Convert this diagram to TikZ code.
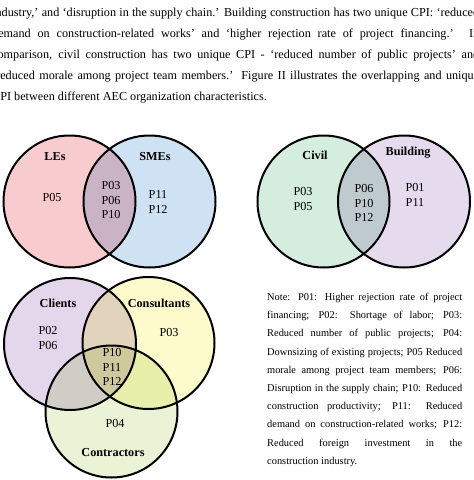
\documentclass[tikz,border=0pt]{standalone}
\usepackage{fontspec}
\setmainfont{Liberation Serif}
\usepackage{xcolor}
\usetikzlibrary{positioning}
\definecolor{lepink}{RGB}{248, 203, 207}
\definecolor{smeblue}{RGB}{207, 226, 243}
\definecolor{civgreen}{RGB}{212, 237, 222}
\definecolor{bldlilac}{RGB}{230, 218, 238}
\definecolor{clililac}{RGB}{228, 215, 236}
\definecolor{conyellow}{RGB}{253, 251, 204}
\definecolor{ctrgreen}{RGB}{234, 243, 214}

\begin{document}
\begin{tikzpicture}[x=1pt, y=-1pt,
    set/.style={circle, draw=black, line width=2pt, minimum size=132pt, inner sep=0pt},
    head/.style={font=\fontsize{12.2}{14}\selectfont\bfseries, inner sep=0pt},
    code/.style={font=\fontsize{12.2}{14.8}\selectfont, align=center, inner sep=0pt},
    para/.style={font=\fontsize{12.2}{21}\selectfont, anchor=base west, inner sep=0pt},
    note/.style={font=\fontsize{10.4}{18.2}\selectfont, text width=195pt, align=justify,
                 anchor=north west, inner sep=0pt}
]
\useasboundingbox (0,0) rectangle (474,480);
\clip (0,0) rectangle (474,480);

% running text of the page
\node[para] (l1) at (-8, 16) {\makebox[487pt][s]{industry,’ and ‘disruption in the supply chain.’ Building construction has two unique CPI: ‘reduced}};
\node[para] (l2) at (-8, 37) {\makebox[487pt][s]{demand on construction-related works’ and ‘higher rejection rate of project financing.’ In}};
\node[para] (l3) at (-8, 58) {\makebox[487pt][s]{comparison, civil construction has two unique CPI - ‘reduced number of public projects’ and}};
\node[para] (l4) at (-8, 79) {\makebox[487pt][s]{‘reduced morale among project team members.’ Figure II illustrates the overlapping and unique}};
\node[para] (l5) at (-8, 100) {CPI between different AEC organization characteristics.};

% size of firm
\begin{scope}[blend group=multiply]
\node[set, fill=lepink] (les) at (69.5, 201.5) {};
\node[set, fill=smeblue] (smes) at (149.5, 201.5) {};
\end{scope}
\node[head] (lesl) at (55, 157) {LEs};
\node[head] (smesl) at (155, 157) {SMEs};
\node[code] (les1) at (52, 197) {P05};
\node[code] (both1) at (111, 200) {P03\\P06\\P10};
\node[code] (smes1) at (158, 202) {P11\\P12};

% type of construction
\begin{scope}[blend group=multiply]
\node[set, fill=civgreen] (civ) at (323.5, 201.5) {};
\node[set, fill=bldlilac] (bld) at (404, 201.5) {};
\end{scope}
\node[head] (civl) at (315, 155) {Civil};
\node[head] (bldl) at (408, 153) {Building};
\node[code] (civ1) at (303, 199) {P03\\P05};
\node[code] (both2) at (364, 203) {P06\\P10\\P12};
\node[code] (bld1) at (415, 195) {P01\\P11};

% role in project
\begin{scope}[blend group=multiply]
\node[set, fill=clililac] (cli) at (70, 344) {};
\node[set, fill=conyellow] (con) at (148.5, 343) {};
\node[set, fill=ctrgreen] (ctr) at (111.5, 411.5) {};
\end{scope}
\node[head] (clil) at (58, 303) {Clients};
\node[head] (conl) at (159, 303) {Consultants};
\node[head] (ctrl) at (113, 453) {Contractors};
\node[code] (cli1) at (48, 338) {P02\\P06};
\node[code] (con1) at (169, 332) {P03};
\node[code] (all3) at (112, 367) {P10\\P11\\P12};
\node[code] (ctr1) at (115, 423) {P04};

% legend
\node[note] (legend) at (267, 293) {Note: P01: Higher rejection rate of project\linebreak
financing; P02: Shortage of labor; P03:\linebreak
Reduced number of public projects; P04:\linebreak
Downsizing of existing projects; P05 Reduced\linebreak
morale among project team members; P06:\linebreak
Disruption in the supply chain; P10: Reduced\linebreak
construction productivity; P11: Reduced\linebreak
demand on construction-related works; P12:\linebreak
Reduced foreign investment in the\linebreak
construction industry.};
\end{tikzpicture}
\end{document}
